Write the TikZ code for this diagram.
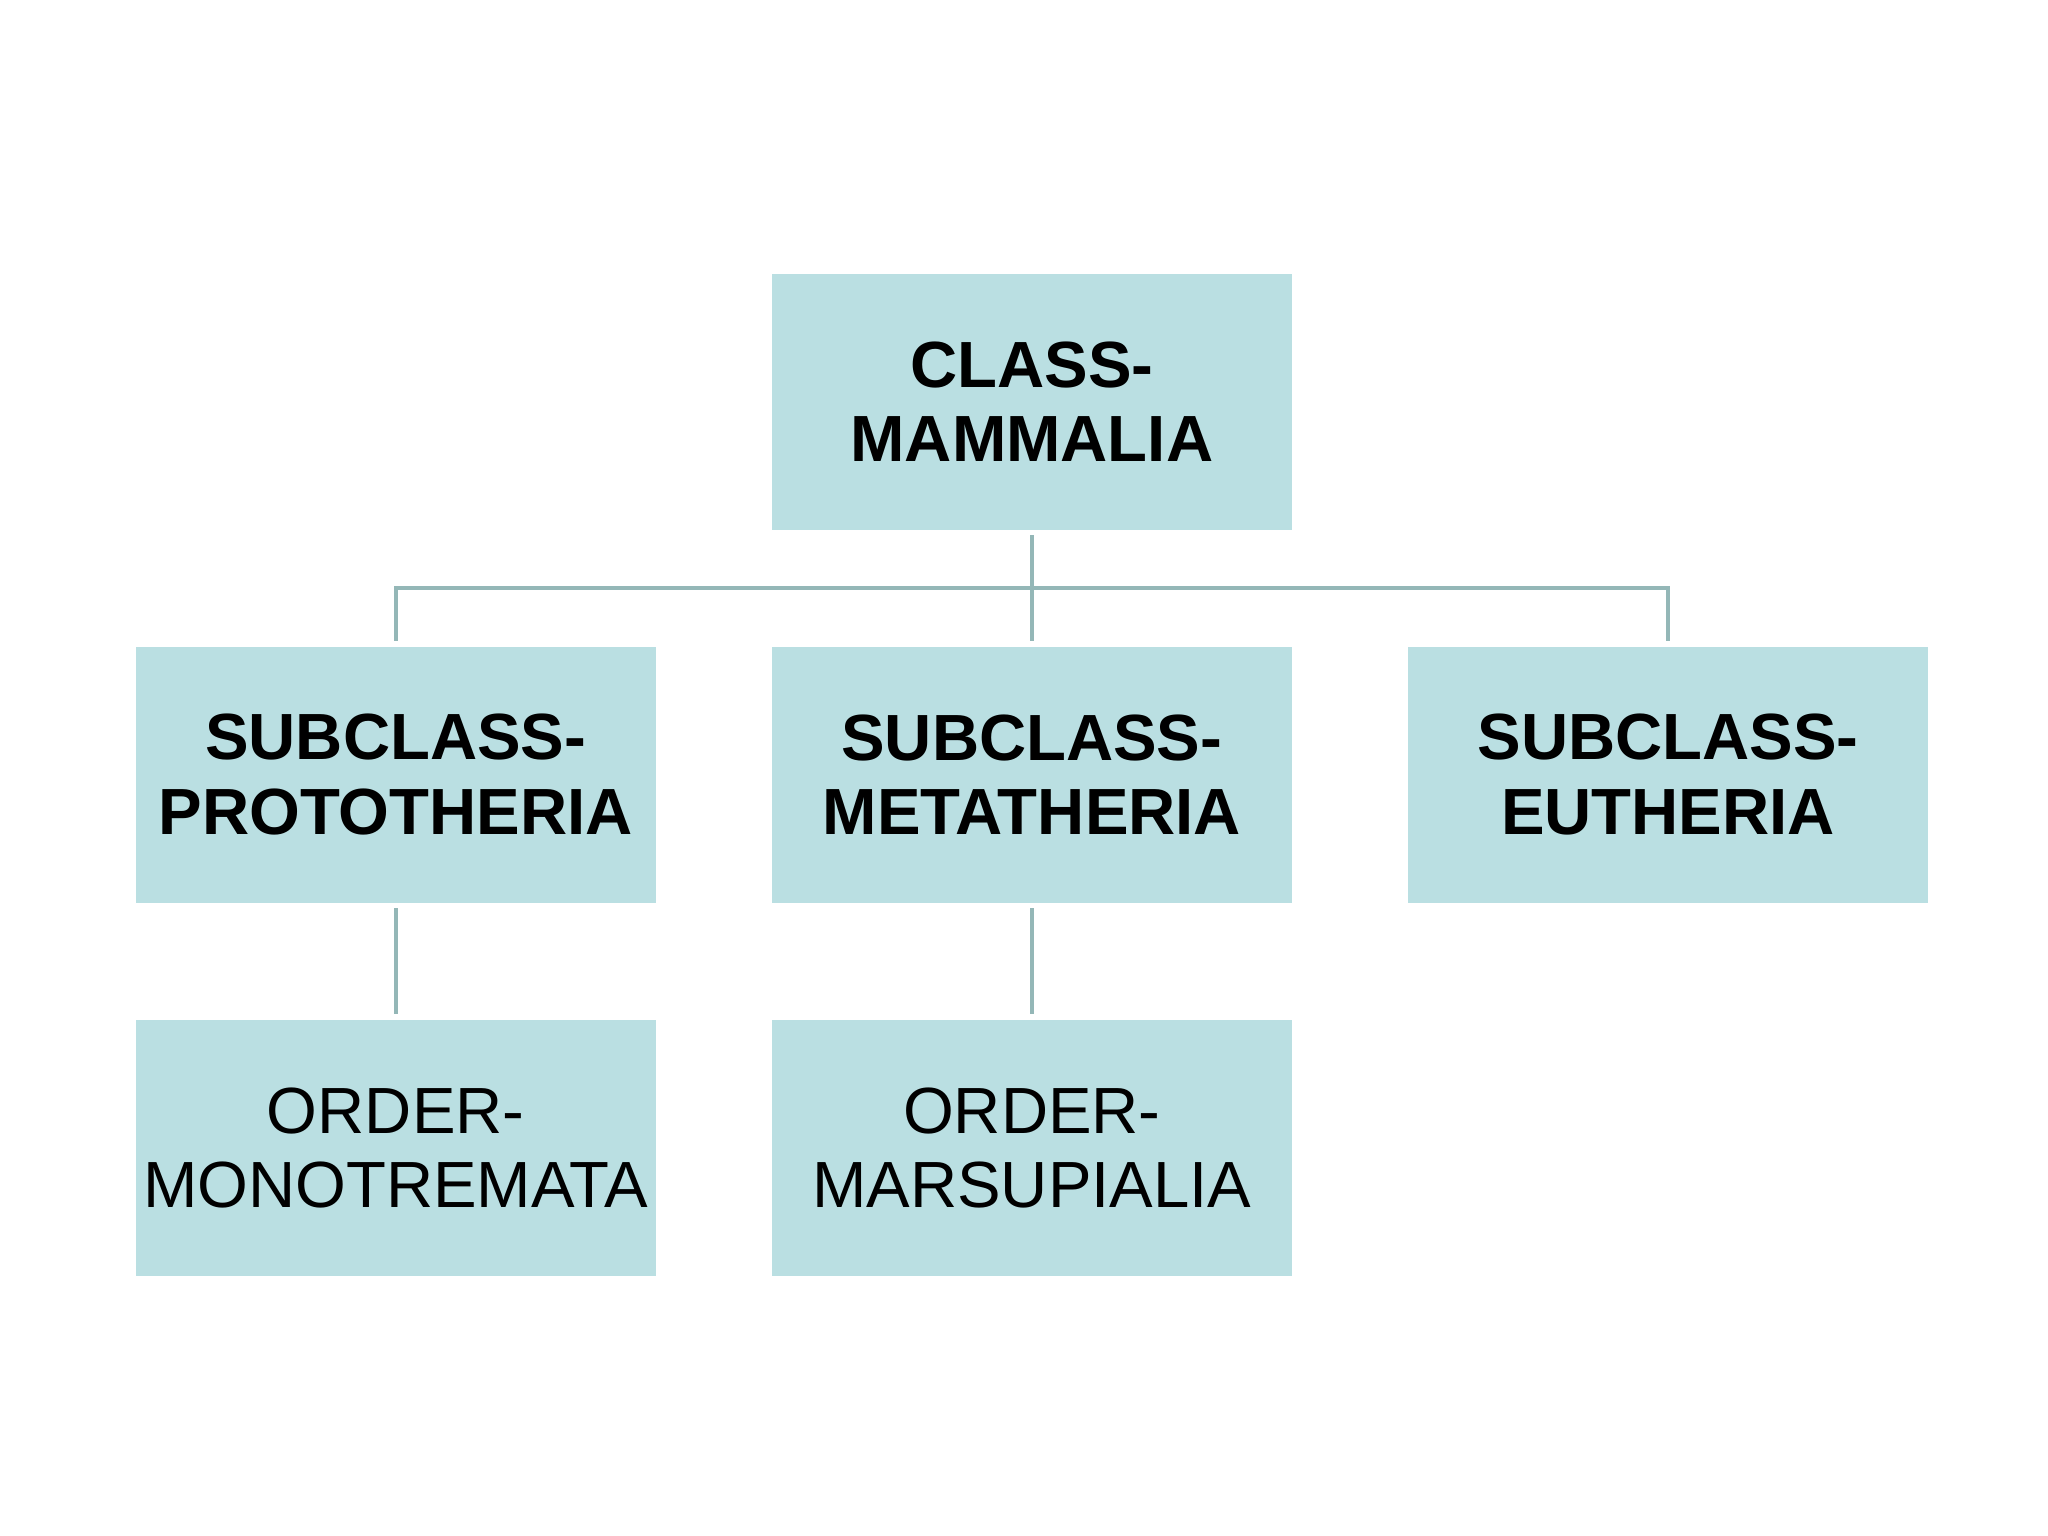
\documentclass[tikz,border=0pt]{standalone}
\usepackage{fontspec}
\setmainfont{Liberation Sans}
\definecolor{boxc}{HTML}{BADFE2}
\definecolor{linec}{HTML}{94B7B7}
\begin{document}
\begin{tikzpicture}[x=0.5pt,y=-0.5pt,
  box/.style={fill=boxc,draw=none,minimum width=199pt,minimum height=98pt,inner sep=0pt,align=center,font=\fontsize{25}{28.5}\selectfont,text=black},
  bbox/.style={box,font=\fontsize{25}{28.5}\selectfont\bfseries},
  conn/.style={draw=linec,line width=1.5pt}]
\useasboundingbox[fill=white] (0,0) rectangle (1568,1176);
\node[bbox] (top) at (790,307.5) {CLASS-\\MAMMALIA};
\node[bbox] (p) at (303,593) {SUBCLASS-\\PROTOTHERIA};
\node[bbox] (m) at (790,593) {SUBCLASS-\\METATHERIA};
\node[bbox] (e) at (1277,593) {SUBCLASS-\\EUTHERIA};
\node[box] (mo) at (303,879) {ORDER-\\MONOTREMATA};
\node[box] (ma) at (790,879) {ORDER-\\MARSUPIALIA};
\coordinate (j) at (790,450);
\draw[conn] ([yshift=-2pt]top.south) -- ([yshift=2pt]m.north);
\draw[conn] ([yshift=2pt]p.north) |- (j) -| ([yshift=2pt]e.north);
\draw[conn] ([yshift=-2pt]p.south) -- ([yshift=2pt]mo.north);
\draw[conn] ([yshift=-2pt]m.south) -- ([yshift=2pt]ma.north);
\end{tikzpicture}
\end{document}
